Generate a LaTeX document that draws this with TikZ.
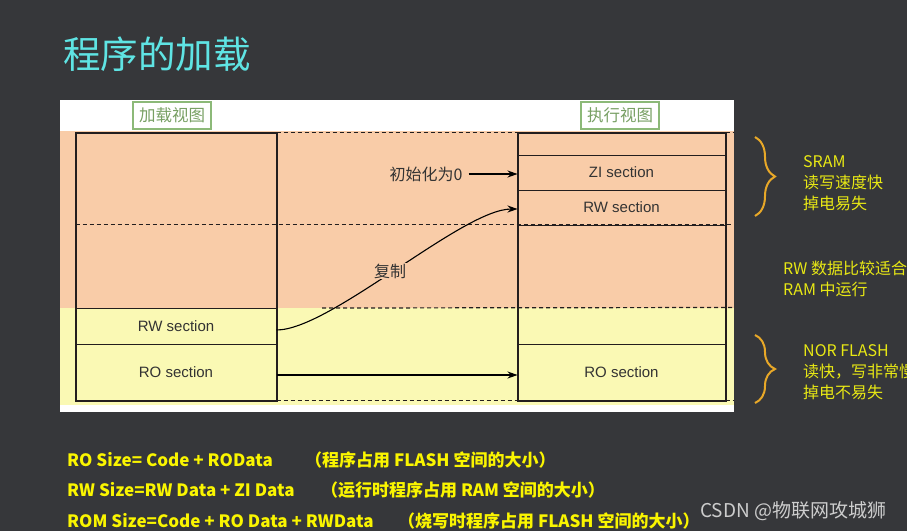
\documentclass[tikz,border=0pt]{standalone}
\usepackage{fontspec}
\setmainfont{Liberation Sans}
\newfontfamily\cjk{Noto Sans CJK SC}
\usetikzlibrary{arrows.meta,decorations.pathreplacing}
\definecolor{bg}{RGB}{54,55,58}
\definecolor{salmon}{RGB}{249,204,168}
\definecolor{pale}{RGB}{250,249,180}
\definecolor{titlec}{RGB}{95,228,228}
\definecolor{ytext}{RGB}{232,232,20}
\definecolor{ybold}{RGB}{250,245,0}
\definecolor{brc}{RGB}{232,168,40}
\definecolor{gbox}{RGB}{140,185,120}
\definecolor{gtext}{RGB}{120,160,100}
\definecolor{ink}{RGB}{35,30,30}
\definecolor{wm}{RGB}{205,205,205}
\begin{document}
\begin{tikzpicture}[x=1pt,y=-1pt,
  sec/.style={draw=ink, line width=1pt, inner sep=0pt, font=\fontsize{15}{17}\selectfont, text=black!80},
  lsec/.style={sec, minimum width=200pt},
  rsec/.style={sec, minimum width=207pt},
  outer/.style={draw=ink, line width=2pt},
  dsh/.style={draw=ink, line width=1.2pt, dash pattern=on 4pt off 3pt},
  arr/.style={draw=black, line width=1.1pt, -{Stealth[length=10pt,width=7pt]}},
  viewlbl/.style={draw=gbox, line width=1.2pt, fill=white, text=gtext, font=\cjk\fontsize{16.5}{18}\selectfont, minimum width=78pt, minimum height=27pt, inner sep=1pt},
  cnote/.style={font=\cjk\fontsize{16}{18}\selectfont, text=black!80, inner sep=1pt},
  side/.style={font=\cjk\fontsize{16}{21}\selectfont, text=ytext, align=left, anchor=west, inner sep=0pt},
  brc/.style={draw=brc, line width=2pt, decorate, decoration={brace, amplitude=20pt}},
  formula/.style={font=\cjk\bfseries\fontsize{17}{19}\selectfont, text=ybold, anchor=west, inner sep=0pt},
]
\useasboundingbox (0,0) rectangle (907,531);
\fill[bg] (0,0) rectangle (907,531);

% title
\node[font=\cjk\fontsize{37.5}{41}\selectfont, text=titlec, anchor=west, inner sep=0pt] (title) at (63,54) {程序的加载};

% panel
\fill[white] (60,100) rectangle (734,412);
\fill[salmon] (60,131) rectangle (734,308);
\fill[pale] (60,308) rectangle (734,405);

\coordinate (pr) at (733,0);

% left (load view)
\node[lsec, minimum height=175pt] (L1) at (176,220.5) {};
\node[lsec, minimum height=36pt] (lrw) at (176,326) {RW section};
\node[lsec, minimum height=56pt] (lro) at (176,372) {RO section};
% right (execution view)
\node[rsec, minimum height=22pt] (r0) at (621.5,144) {};
\node[rsec, minimum height=35pt] (rzi) at (621.5,172.5) {ZI section};
\node[rsec, minimum height=35pt] (rrw) at (621.5,207.5) {RW section};
\node[rsec, minimum height=119pt] (r3) at (621.5,284.5) {};
\node[rsec, minimum height=56pt] (rro) at (621.5,372) {RO section};

% dashed guides
\draw[dsh] (L1.north east) -- (L1.north east -| r0.west);
\draw[dsh] (r0.north east) -- (r0.north east -| pr);
\draw[dsh] (L1.west |- r3.north) -- (r3.north -| pr);
\draw[dsh] (322,308) -- (pr |- lrw.north);
\draw[dsh] (lro.south east) -- (lro.south east -| rro.west);
\draw[dsh] (rro.south east) -- (rro.south east -| pr);

% outer frames
\draw[outer] (L1.north west) rectangle (lro.south east);
\draw[outer] (r0.north west) rectangle (rro.south east);

% view labels
\node[viewlbl] (lv) at (172,115.5) {加载视图};
\node[viewlbl] (ev) at (620,115.5) {执行视图};

% arrows
\node[cnote] (init) at (426,174) {初始化为0};
\draw[arr, shorten <=5pt] (init.east) -- (init.east -| rzi.west);
\draw[arr] ([yshift=-4pt]lrw.east) .. controls +(54,0) and +(-55,0) .. ([yshift=-1.5pt]rrw.west);
\node[cnote, fill=salmon] (copy) at (390,271) {复制};
\draw[arr] ([yshift=-3pt]lro.east) -- ([yshift=-3pt]rro.west);

% braces and side notes
\draw[brc] (755,137) -- (755,216);
\draw[brc] (755,335) -- (755,403);
\node[side] (sram) at (803,183) {SRAM\\读写速度快\\掉电易失};
\node[side] (rwnote) at (783,278.5) {RW 数据比较适合\\RAM 中运行};
\node[side] (nor) at (803,372.5) {NOR FLASH\\读快，写非常慢\\掉电不易失};

% formulas
\node[formula] (f1) at (67,460) {RO Size= Code + ROData};
\node[formula] (p1) at (305,460) {（程序占用 FLASH 空间的大小）};
\node[formula] (f2) at (67,490) {RW Size=RW Data + ZI Data};
\node[formula] (p2) at (321,490) {（运行时程序占用 RAM 空间的大小）};
\node[formula] (f3) at (67,521) {ROM Size=Code + RO Data + RWData};
\node[formula] (p3) at (398,521) {（烧写时程序占用 FLASH 空间的大小）};

% watermark
\node[font=\cjk\fontsize{19}{21}\selectfont, text=wm, anchor=west, inner sep=0pt] (csdn) at (700,511) {CSDN @物联网攻城狮};
\end{tikzpicture}
\end{document}
